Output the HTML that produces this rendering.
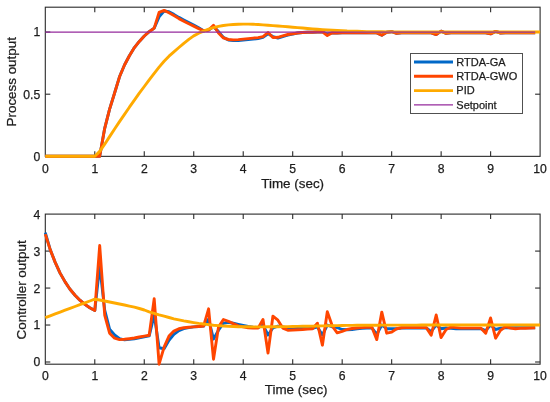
<!DOCTYPE html><html><head><meta charset="utf-8"><title>plot</title><style>html,body{margin:0;padding:0;background:#fff}svg{display:block}text{font-family:"Liberation Sans",Arial,Helvetica,sans-serif;fill:#1c1c1c;stroke:#1c1c1c;stroke-width:0.25px}</style></head><body>
<svg width="550" height="402" viewBox="0 0 550 402">
<rect width="550" height="402" fill="#fff"/>
<g stroke="#2a2a2a" stroke-width="1.1" fill="none">
<rect x="45.30" y="7.20" width="494.80" height="149.15"/>
<line x1="94.78" y1="156.35" x2="94.78" y2="151.35"/>
<line x1="94.78" y1="7.20" x2="94.78" y2="12.20"/>
<line x1="144.26" y1="156.35" x2="144.26" y2="151.35"/>
<line x1="144.26" y1="7.20" x2="144.26" y2="12.20"/>
<line x1="193.74" y1="156.35" x2="193.74" y2="151.35"/>
<line x1="193.74" y1="7.20" x2="193.74" y2="12.20"/>
<line x1="243.22" y1="156.35" x2="243.22" y2="151.35"/>
<line x1="243.22" y1="7.20" x2="243.22" y2="12.20"/>
<line x1="292.70" y1="156.35" x2="292.70" y2="151.35"/>
<line x1="292.70" y1="7.20" x2="292.70" y2="12.20"/>
<line x1="342.18" y1="156.35" x2="342.18" y2="151.35"/>
<line x1="342.18" y1="7.20" x2="342.18" y2="12.20"/>
<line x1="391.66" y1="156.35" x2="391.66" y2="151.35"/>
<line x1="391.66" y1="7.20" x2="391.66" y2="12.20"/>
<line x1="441.14" y1="156.35" x2="441.14" y2="151.35"/>
<line x1="441.14" y1="7.20" x2="441.14" y2="12.20"/>
<line x1="490.62" y1="156.35" x2="490.62" y2="151.35"/>
<line x1="490.62" y1="7.20" x2="490.62" y2="12.20"/>
<line x1="45.30" y1="94.20" x2="50.30" y2="94.20"/>
<line x1="540.10" y1="94.20" x2="535.10" y2="94.20"/>
<line x1="45.30" y1="32.05" x2="50.30" y2="32.05"/>
<line x1="540.10" y1="32.05" x2="535.10" y2="32.05"/>
</g>
<text x="45.3" y="172.5" font-size="12.2" text-anchor="middle">0</text>
<text x="94.8" y="172.5" font-size="12.2" text-anchor="middle">1</text>
<text x="144.3" y="172.5" font-size="12.2" text-anchor="middle">2</text>
<text x="193.7" y="172.5" font-size="12.2" text-anchor="middle">3</text>
<text x="243.2" y="172.5" font-size="12.2" text-anchor="middle">4</text>
<text x="292.7" y="172.5" font-size="12.2" text-anchor="middle">5</text>
<text x="342.2" y="172.5" font-size="12.2" text-anchor="middle">6</text>
<text x="391.7" y="172.5" font-size="12.2" text-anchor="middle">7</text>
<text x="441.1" y="172.5" font-size="12.2" text-anchor="middle">8</text>
<text x="490.6" y="172.5" font-size="12.2" text-anchor="middle">9</text>
<text x="540.1" y="172.5" font-size="12.2" text-anchor="middle">10</text>
<text x="40.3" y="160.8" font-size="12.2" text-anchor="end">0</text>
<text x="40.3" y="98.6" font-size="12.2" text-anchor="end">0.5</text>
<text x="40.3" y="36.4" font-size="12.2" text-anchor="end">1</text>
<text x="292.7" y="188.0" font-size="13.4" text-anchor="middle">Time (sec)</text>
<text transform="translate(16,81.8) rotate(-90)" font-size="13.4" text-anchor="middle">Process output</text>
<polyline points="45.3,156.3 50.2,156.3 55.2,156.3 60.1,156.3 65.1,156.3 70.0,156.3 75.0,156.3 79.9,156.3 84.9,156.3 89.8,156.3 94.8,156.3 99.7,156.3 104.7,128.3 109.6,109.1 114.6,93.0 119.5,76.8 124.5,65.0 129.4,55.7 134.4,47.6 139.3,41.4 144.3,36.0 149.2,31.7 154.2,28.1 159.1,16.8 164.1,11.0 169.0,11.8 173.9,14.4 178.9,17.4 183.8,20.0 188.8,22.6 193.7,25.1 198.7,27.8 203.6,30.8 208.6,30.1 213.5,26.6 218.5,31.6 223.4,37.4 228.4,40.0 233.3,40.6 238.3,40.6 243.2,40.1 248.2,39.6 253.1,39.1 258.1,38.6 263.0,37.4 268.0,33.8 272.9,36.6 277.9,38.0 282.8,36.5 287.8,35.2 292.7,34.2 297.6,33.0 302.6,32.5 307.5,32.3 312.5,32.2 317.4,32.0 322.4,31.8 327.3,34.0 332.3,32.8 337.2,33.0 342.2,32.9 347.1,32.9 352.1,32.9 357.0,32.9 362.0,32.9 366.9,32.9 371.9,32.9 376.8,32.9 381.8,35.2 386.7,32.3 391.7,31.7 396.6,33.3 401.6,32.9 406.5,32.9 411.5,32.9 416.4,32.9 421.3,32.9 426.3,32.9 431.2,32.9 436.2,34.5 441.1,31.1 446.1,33.3 451.0,32.9 456.0,32.9 460.9,32.9 465.9,32.9 470.8,32.9 475.8,32.9 480.7,32.9 485.7,32.9 490.6,33.9 495.6,31.4 500.5,33.0 505.5,32.9 510.4,32.9 515.4,32.9 520.3,32.9 525.3,32.9 530.2,32.9 535.2,32.9" fill="none" stroke="#0068C8" stroke-width="2.9" stroke-linejoin="round" stroke-linecap="butt"/>
<polyline points="45.3,156.3 50.2,156.3 55.2,156.3 60.1,156.3 65.1,156.3 70.0,156.3 75.0,156.3 79.9,156.3 84.9,156.3 89.8,156.3 94.8,156.3 99.7,156.3 104.7,128.3 109.6,109.1 114.6,93.0 119.5,76.8 124.5,65.0 129.4,55.7 134.4,47.6 139.3,41.4 144.3,36.0 149.2,31.7 154.2,28.1 159.1,12.4 164.1,10.4 169.0,12.8 173.9,15.6 178.9,18.6 183.8,21.2 188.8,23.8 193.7,26.1 198.7,28.6 203.6,30.8 208.6,30.1 213.5,25.3 218.5,33.0 223.4,37.9 228.4,39.5 233.3,39.9 238.3,39.6 243.2,39.1 248.2,38.6 253.1,38.1 258.1,37.6 263.0,36.6 268.0,32.5 272.9,37.6 277.9,37.3 282.8,35.8 287.8,34.5 292.7,33.7 297.6,33.0 302.6,32.5 307.5,32.3 312.5,32.2 317.4,32.0 322.4,31.8 327.3,35.5 332.3,32.8 337.2,33.0 342.2,32.9 347.1,32.9 352.1,32.9 357.0,32.9 362.0,32.9 366.9,32.9 371.9,32.9 376.8,32.9 381.8,35.2 386.7,32.3 391.7,31.7 396.6,33.3 401.6,32.9 406.5,32.9 411.5,32.9 416.4,32.9 421.3,32.9 426.3,32.9 431.2,32.9 436.2,34.5 441.1,31.1 446.1,33.3 451.0,32.9 456.0,32.9 460.9,32.9 465.9,32.9 470.8,32.9 475.8,32.9 480.7,32.9 485.7,32.9 490.6,33.9 495.6,31.4 500.5,33.0 505.5,32.9 510.4,32.9 515.4,32.9 520.3,32.9 525.3,32.9 530.2,32.9 535.2,32.9" fill="none" stroke="#FF4500" stroke-width="2.9" stroke-linejoin="round" stroke-linecap="butt"/>
<polyline points="45.3,156.3 50.2,156.3 55.2,156.3 60.1,156.3 65.1,156.3 70.0,156.3 75.0,156.3 79.9,156.3 84.9,156.3 89.8,156.3 94.8,156.3 99.7,151.4 104.7,144.2 109.6,136.6 114.6,129.0 119.5,121.6 124.5,114.4 129.4,107.2 134.4,100.2 139.3,93.2 144.3,86.5 149.2,79.8 154.2,73.4 159.1,67.1 164.1,61.2 169.0,56.2 173.9,51.8 178.9,47.5 183.8,43.3 188.8,39.4 193.7,35.9 198.7,33.2 203.6,31.1 208.6,29.2 213.5,27.7 218.5,26.4 223.4,25.5 228.4,24.9 233.3,24.5 238.3,24.2 243.2,24.1 248.2,24.1 253.1,24.3 258.1,24.5 263.0,24.9 268.0,25.3 272.9,25.6 277.9,26.0 282.8,26.4 287.8,26.8 292.7,27.2 297.6,27.6 302.6,28.0 307.5,28.5 312.5,28.9 317.4,29.2 322.4,29.6 327.3,30.0 332.3,30.3 337.2,30.5 342.2,30.7 347.1,31.0 352.1,31.1 357.0,31.3 362.0,31.4 366.9,31.6 371.9,31.7 376.8,31.7 381.8,31.8 386.7,31.9 391.7,31.9 396.6,31.9 401.6,32.0 406.5,32.0 411.5,32.0 416.4,32.0 421.3,32.0 426.3,32.0 431.2,32.0 436.2,32.0 441.1,32.0 446.1,32.0 451.0,32.0 456.0,32.0 460.9,32.0 465.9,32.0 470.8,32.0 475.8,32.0 480.7,32.0 485.7,32.0 490.6,32.0 495.6,32.0 500.5,32.0 505.5,32.0 510.4,32.0 515.4,32.0 520.3,32.0 525.3,32.0 530.2,32.0 535.2,32.0 540.1,32.0" fill="none" stroke="#FFAA00" stroke-width="2.9" stroke-linejoin="round" stroke-linecap="butt"/>
<line x1="45.3" y1="32.05" x2="535.2" y2="32.05" stroke="#952A9C" stroke-width="1.25"/>
<rect x="410.5" y="53.5" width="112" height="60" fill="#fff" stroke="#505050" stroke-width="1" shape-rendering="crispEdges"/>
<line x1="414" y1="62" x2="453" y2="62" stroke="#0068C8" stroke-width="2.9"/>
<text x="456.3" y="65.8" font-size="11">RTDA-GA</text>
<line x1="414" y1="76.2" x2="453" y2="76.2" stroke="#FF4500" stroke-width="2.9"/>
<text x="456.3" y="80.0" font-size="11">RTDA-GWO</text>
<line x1="414" y1="90.6" x2="453" y2="90.6" stroke="#FFAA00" stroke-width="2.9"/>
<text x="456.3" y="94.4" font-size="11">PID</text>
<line x1="414" y1="104.8" x2="453" y2="104.8" stroke="#952A9C" stroke-width="1.25"/>
<text x="456.3" y="108.6" font-size="11">Setpoint</text>
<g stroke="#2a2a2a" stroke-width="1.1" fill="none">
<rect x="45.30" y="214.10" width="494.80" height="150.10"/>
<line x1="94.78" y1="364.20" x2="94.78" y2="359.20"/>
<line x1="94.78" y1="214.10" x2="94.78" y2="219.10"/>
<line x1="144.26" y1="364.20" x2="144.26" y2="359.20"/>
<line x1="144.26" y1="214.10" x2="144.26" y2="219.10"/>
<line x1="193.74" y1="364.20" x2="193.74" y2="359.20"/>
<line x1="193.74" y1="214.10" x2="193.74" y2="219.10"/>
<line x1="243.22" y1="364.20" x2="243.22" y2="359.20"/>
<line x1="243.22" y1="214.10" x2="243.22" y2="219.10"/>
<line x1="292.70" y1="364.20" x2="292.70" y2="359.20"/>
<line x1="292.70" y1="214.10" x2="292.70" y2="219.10"/>
<line x1="342.18" y1="364.20" x2="342.18" y2="359.20"/>
<line x1="342.18" y1="214.10" x2="342.18" y2="219.10"/>
<line x1="391.66" y1="364.20" x2="391.66" y2="359.20"/>
<line x1="391.66" y1="214.10" x2="391.66" y2="219.10"/>
<line x1="441.14" y1="364.20" x2="441.14" y2="359.20"/>
<line x1="441.14" y1="214.10" x2="441.14" y2="219.10"/>
<line x1="490.62" y1="364.20" x2="490.62" y2="359.20"/>
<line x1="490.62" y1="214.10" x2="490.62" y2="219.10"/>
<line x1="45.30" y1="362.00" x2="50.30" y2="362.00"/>
<line x1="540.10" y1="362.00" x2="535.10" y2="362.00"/>
<line x1="45.30" y1="325.03" x2="50.30" y2="325.03"/>
<line x1="540.10" y1="325.03" x2="535.10" y2="325.03"/>
<line x1="45.30" y1="288.06" x2="50.30" y2="288.06"/>
<line x1="540.10" y1="288.06" x2="535.10" y2="288.06"/>
<line x1="45.30" y1="251.09" x2="50.30" y2="251.09"/>
<line x1="540.10" y1="251.09" x2="535.10" y2="251.09"/>
</g>
<text x="45.3" y="380.4" font-size="12.2" text-anchor="middle">0</text>
<text x="94.8" y="380.4" font-size="12.2" text-anchor="middle">1</text>
<text x="144.3" y="380.4" font-size="12.2" text-anchor="middle">2</text>
<text x="193.7" y="380.4" font-size="12.2" text-anchor="middle">3</text>
<text x="243.2" y="380.4" font-size="12.2" text-anchor="middle">4</text>
<text x="292.7" y="380.4" font-size="12.2" text-anchor="middle">5</text>
<text x="342.2" y="380.4" font-size="12.2" text-anchor="middle">6</text>
<text x="391.7" y="380.4" font-size="12.2" text-anchor="middle">7</text>
<text x="441.1" y="380.4" font-size="12.2" text-anchor="middle">8</text>
<text x="490.6" y="380.4" font-size="12.2" text-anchor="middle">9</text>
<text x="540.1" y="380.4" font-size="12.2" text-anchor="middle">10</text>
<text x="40.3" y="366.4" font-size="12.2" text-anchor="end">0</text>
<text x="40.3" y="329.4" font-size="12.2" text-anchor="end">1</text>
<text x="40.3" y="292.5" font-size="12.2" text-anchor="end">2</text>
<text x="40.3" y="255.5" font-size="12.2" text-anchor="end">3</text>
<text x="40.3" y="218.5" font-size="12.2" text-anchor="end">4</text>
<text x="296.2" y="394.1" font-size="13.4" text-anchor="middle">Time (sec)</text>
<text transform="translate(26,289.9) rotate(-90)" font-size="13.4" text-anchor="middle">Controller output</text>
<polyline points="45.3,232.6 50.2,249.6 55.2,262.4 60.1,273.1 65.1,281.9 70.0,289.2 75.0,295.2 79.9,300.2 84.9,304.4 89.8,307.8 94.8,310.6 99.7,265.9 104.7,310.2 109.6,329.1 114.6,335.0 119.5,338.7 124.5,339.8 129.4,339.4 134.4,338.7 139.3,337.8 144.3,336.9 149.2,335.8 154.2,315.0 159.1,347.8 164.1,348.7 169.0,340.2 173.9,334.3 178.9,330.6 183.8,328.7 188.8,327.6 193.7,326.9 198.7,326.5 203.6,326.1 208.6,319.1 213.5,339.1 218.5,330.2 223.4,323.2 228.4,322.4 233.3,323.2 238.3,324.3 243.2,325.4 248.2,326.5 253.1,327.2 258.1,327.6 263.0,325.0 268.0,335.0 272.9,328.0 277.9,326.1 282.8,326.9 287.8,328.0 292.7,328.4 297.6,328.4 302.6,328.4 307.5,328.4 312.5,328.4 317.4,326.9 322.4,335.0 327.3,325.0 332.3,326.9 337.2,327.6 342.2,329.5 347.1,329.8 352.1,329.5 357.0,328.9 362.0,328.4 366.9,328.0 371.9,327.8 376.8,334.3 381.8,325.0 386.7,328.7 391.7,328.7 396.6,328.7 401.6,328.0 406.5,328.0 411.5,328.0 416.4,328.0 421.3,328.0 426.3,328.0 431.2,331.7 436.2,325.0 441.1,328.7 446.1,328.0 451.0,328.4 456.0,328.7 460.9,328.7 465.9,328.7 470.8,328.7 475.8,328.7 480.7,328.7 485.7,330.6 490.6,325.0 495.6,329.5 500.5,328.1 505.5,327.6 510.4,327.8 515.4,327.8 520.3,327.8 525.3,327.8 530.2,327.8 535.2,327.8" fill="none" stroke="#0068C8" stroke-width="2.9" stroke-linejoin="round" stroke-linecap="butt"/>
<polyline points="45.3,234.1 50.2,249.6 55.2,262.4 60.1,273.1 65.1,281.9 70.0,289.2 75.0,295.2 79.9,300.2 84.9,304.4 89.8,307.8 94.8,310.6 99.7,245.5 104.7,315.0 109.6,333.2 114.6,338.2 119.5,339.6 124.5,339.3 129.4,338.7 134.4,338.0 139.3,337.0 144.3,336.1 149.2,335.2 154.2,298.8 159.1,364.2 164.1,347.2 169.0,336.1 173.9,331.1 178.9,328.7 183.8,327.8 188.8,327.2 193.7,326.9 198.7,326.5 203.6,326.1 208.6,308.8 213.5,359.2 218.5,327.1 223.4,319.5 228.4,321.3 233.3,323.6 238.3,325.8 243.2,326.9 248.2,327.8 253.1,328.1 258.1,328.1 263.0,319.5 268.0,353.1 272.9,316.2 277.9,320.2 282.8,328.1 287.8,330.2 292.7,330.0 297.6,329.7 302.6,329.5 307.5,329.1 312.5,328.7 317.4,323.2 322.4,345.2 327.3,311.7 332.3,326.1 337.2,332.8 342.2,331.3 347.1,329.5 352.1,328.5 357.0,328.0 362.0,327.6 366.9,327.2 371.9,327.2 376.8,339.6 381.8,312.1 386.7,333.2 391.7,332.1 396.6,328.7 401.6,327.8 406.5,327.6 411.5,327.6 416.4,327.6 421.3,327.6 426.3,327.6 431.2,335.2 436.2,315.0 441.1,337.6 446.1,329.5 451.0,327.1 456.0,327.6 460.9,328.1 465.9,328.1 470.8,328.1 475.8,328.1 480.7,328.1 485.7,333.2 490.6,318.0 495.6,338.2 500.5,330.2 505.5,326.7 510.4,328.0 515.4,328.7 520.3,328.4 525.3,328.2 530.2,328.0 535.2,327.7" fill="none" stroke="#FF4500" stroke-width="2.9" stroke-linejoin="round" stroke-linecap="butt"/>
<polyline points="45.3,317.6 50.2,315.8 55.2,313.9 60.1,312.1 65.1,310.2 70.0,308.4 75.0,306.5 79.9,304.7 84.9,302.8 89.8,301.0 94.8,299.2 99.7,300.0 104.7,301.0 109.6,302.0 114.6,303.0 119.5,304.0 124.5,305.0 129.4,306.1 134.4,307.2 139.3,308.5 144.3,310.0 149.2,311.8 154.2,313.3 159.1,314.8 164.1,316.1 169.0,317.5 173.9,318.8 178.9,319.9 183.8,320.9 188.8,321.8 193.7,322.6 198.7,323.4 203.6,324.0 208.6,324.6 213.5,325.2 218.5,325.6 223.4,326.0 228.4,326.3 233.3,326.5 238.3,326.7 243.2,326.8 248.2,326.8 253.1,326.9 258.1,326.9 263.0,326.9 268.0,326.8 272.9,326.8 277.9,326.7 282.8,326.6 287.8,326.6 292.7,326.5 297.6,326.4 302.6,326.3 307.5,326.2 312.5,326.1 317.4,326.0 322.4,325.9 327.3,325.8 332.3,325.7 337.2,325.6 342.2,325.5 347.1,325.4 352.1,325.4 357.0,325.3 362.0,325.3 366.9,325.2 371.9,325.2 376.8,325.2 381.8,325.1 386.7,325.1 391.7,325.1 396.6,325.1 401.6,325.1 406.5,325.1 411.5,325.1 416.4,325.1 421.3,325.0 426.3,325.0 431.2,325.0 436.2,325.0 441.1,325.0 446.1,325.0 451.0,325.0 456.0,325.0 460.9,325.0 465.9,325.0 470.8,325.0 475.8,325.0 480.7,325.0 485.7,325.0 490.6,325.0 495.6,325.0 500.5,325.0 505.5,325.0 510.4,325.0 515.4,325.0 520.3,325.0 525.3,325.0 530.2,325.0 535.2,325.0 540.1,325.0" fill="none" stroke="#FFAA00" stroke-width="2.9" stroke-linejoin="round" stroke-linecap="butt"/>
</svg></body></html>
